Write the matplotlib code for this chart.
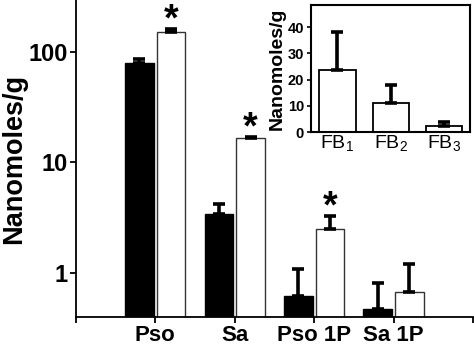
import numpy as np
import matplotlib
matplotlib.use("Agg")
import matplotlib.pyplot as plt

plt.rcParams['font.family'] = ['Liberation Sans', 'DejaVu Sans']
plt.rcParams['mathtext.fontset'] = 'custom'
plt.rcParams['mathtext.rm'] = 'Liberation Sans'

# main chart data (log scale)
groups = ["Pso", "Sa", "Pso 1P", "Sa 1P"]
black_vals = [79, 3.4, 0.62, 0.475]
black_err = [7, 0.85, 0.46, 0.34]
white_vals = [152, 16.5, 2.5, 0.67]
white_err = [9, 0.4, 0.8, 0.53]
stars = [True, True, True, False]

# inset data
fb_labels = ["FB$_{\\mathregular{1}}$", "FB$_{\\mathregular{2}}$", "FB$_{\\mathregular{3}}$"]
fb_vals = [23.6, 11.2, 2.4]
fb_err = [14.6, 6.9, 1.4]

fig = plt.figure(figsize=(4.74, 3.46), dpi=100)
ax = fig.add_axes([0.160, 0.084, 0.838, 0.916])

x = np.arange(1, len(groups) + 1)
w = 0.36
off = 0.2
err_kw = dict(elinewidth=2.6, capthick=2.6, capsize=4, ecolor='black')

ax.bar(x - off, black_vals, w, color='black', edgecolor='black',
       yerr=[np.zeros(4), black_err], error_kw=err_kw)
ax.bar(x + off, white_vals, w, color='white', edgecolor='#333333', linewidth=1,
       yerr=[np.zeros(4), white_err], error_kw=err_kw)

for i in range(len(groups)):
    if stars[i]:
        top = white_vals[i] + white_err[i]
        ax.annotate("*", xy=(x[i] + off, top), xytext=(0, -1),
                    textcoords='offset points', ha='center', va='baseline',
                    fontsize=27, fontweight='bold')

ax.set_yscale('log')
ax.set_ylim(0.4, 295)
ax.set_xlim(0, 5)
ax.set_yticks([1, 10, 100])
ax.set_yticklabels(["1", "10", "100"])
ax.minorticks_off()
ax.set_xticks([0, 1, 2, 3, 4, 5])
ax.set_xticklabels([""] + groups + [""])
ax.tick_params(axis='both', labelsize=17, width=1.3, length=4, direction='out')
ax.tick_params(axis='y', pad=2)
ax.tick_params(axis='x', labelsize=16, pad=2)
for lab in ax.get_xticklabels() + ax.get_yticklabels():
    lab.set_fontweight('bold')
ax.set_ylabel("Nanomoles/g", fontsize=19.5, fontweight='bold', labelpad=1)
ax.spines['top'].set_visible(False)
ax.spines['right'].set_visible(False)
ax.spines['left'].set_linewidth(1.3)
ax.spines['bottom'].set_linewidth(1.3)

# inset
ins = fig.add_axes([0.656, 0.618, 0.336, 0.368])
xi = np.arange(len(fb_vals))
ins.bar(xi, fb_vals, 0.68, color='white', edgecolor='black', linewidth=1.3,
        yerr=[np.zeros(3), fb_err],
        error_kw=dict(elinewidth=2.6, capthick=2.6, capsize=4, ecolor='black'))
ins.set_xlim(-0.5, 2.5)
ins.set_ylim(0, 48.5)
ins.set_yticks([0, 10, 20, 30, 40])
ins.set_xticks(xi)
ins.set_xticklabels(fb_labels, fontsize=14)
ins.tick_params(axis='x', length=0, pad=1)
ins.tick_params(axis='y', labelsize=10.5, length=3, width=1.2, pad=2)
for lab in ins.get_yticklabels():
    lab.set_fontweight('bold')
ins.set_ylabel("Nanomoles/g", fontsize=14, fontweight='bold', labelpad=1)
for s in ins.spines.values():
    s.set_linewidth(1.5)

fig.savefig("out.png", dpi=100)
